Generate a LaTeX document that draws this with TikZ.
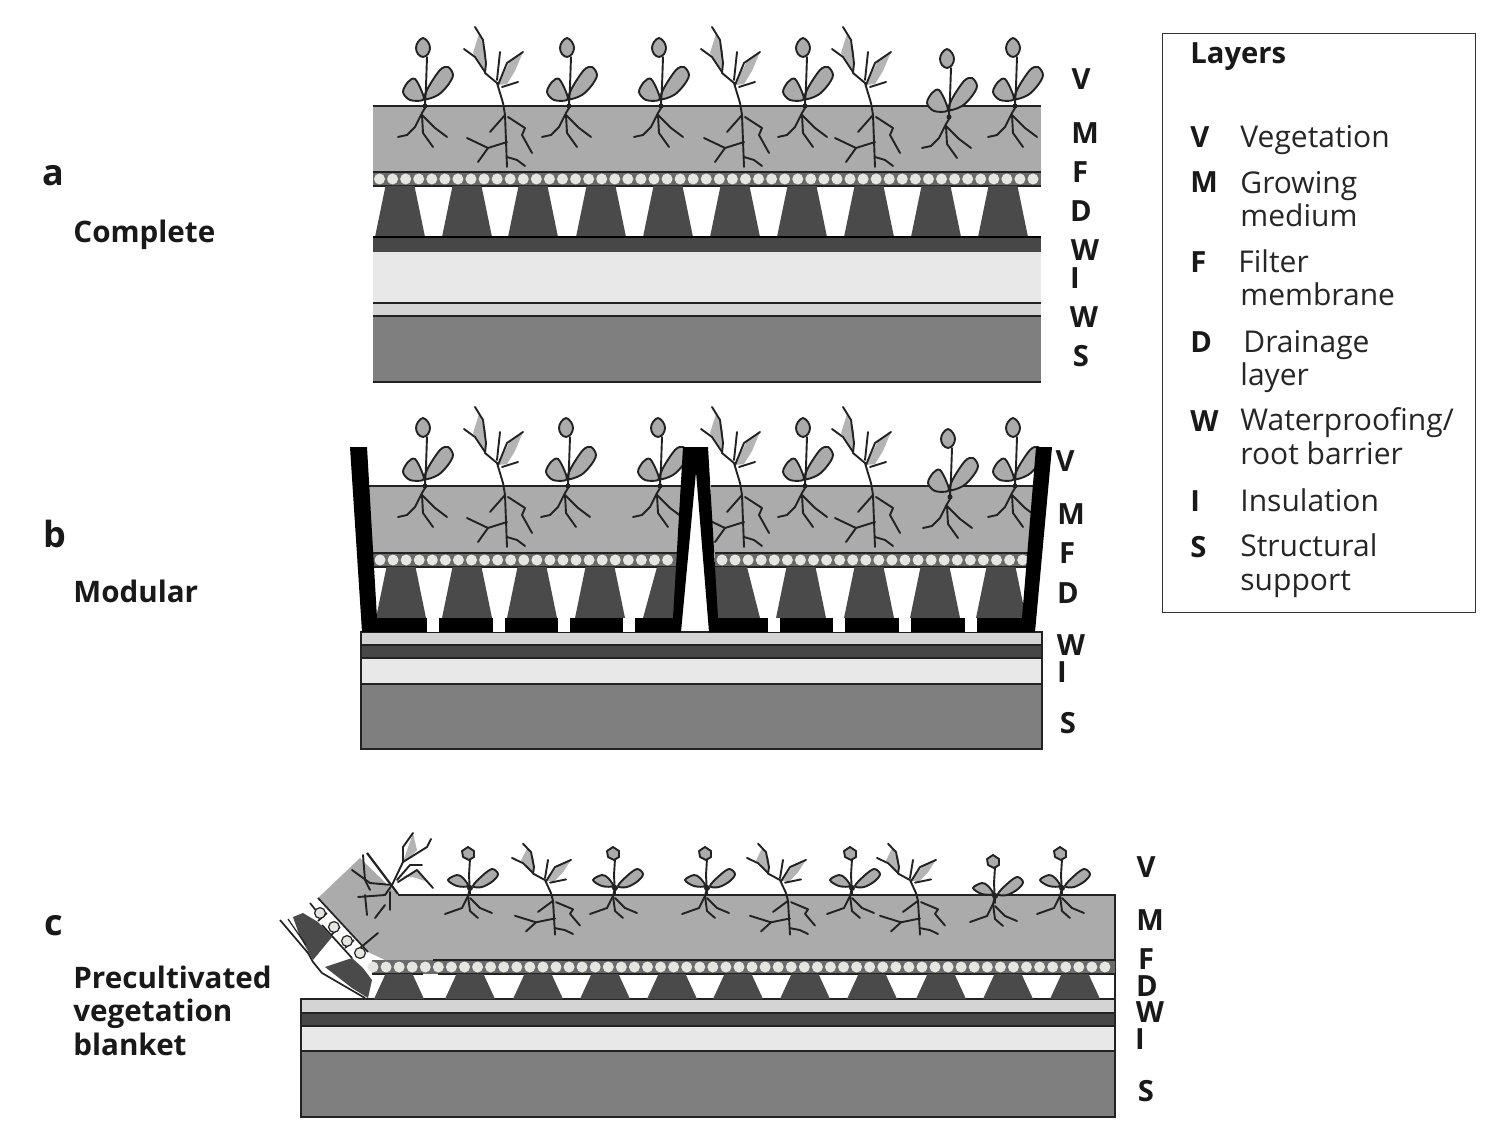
\documentclass[tikz,border=0pt]{standalone}
\usepackage{fontspec}
\setmainfont{Open Sans}
\definecolor{colM}{HTML}{ABABAB}
\definecolor{colD}{HTML}{4A4A4A}
\definecolor{colW}{HTML}{474747}
\definecolor{colWL}{HTML}{D4D4D4}
\definecolor{colI}{HTML}{E8E8E8}
\definecolor{colS}{HTML}{7F7F7F}
\definecolor{colLeaf}{HTML}{ABABAB}
\definecolor{colSoft}{HTML}{B4B4B4}
\definecolor{colBand}{HTML}{6A6A6A}
\definecolor{colBead}{HTML}{E6E6E0}
\definecolor{colLine}{HTML}{222222}
\newcommand{\plantBbody}{
    \fill[softleaf] (18,-54)--(5,-45)--(-7,-21)--(2,-22)--(10,-35)--cycle;
    \fill[softleaf] (-32,-53)--(-20,-36)--(-19,-55)--(-26,-72)--cycle;
    \draw[plantline] (-30,-79)--(-22,-66)--(-19,-43)--(-20,-33)--(-8,-23)--(-2,-3)--(0,9)--(2,61);
    \draw[plantline] (-41,-57)--(-30,-49)--(-20,-34);
    \draw[plantline] (-5,-54)--(-8,-26);
    \draw[plantline] (18,-54)--(2,-43)--(-7,-21);
    \draw[plantline] (13,-24)--(-3,-19);
    \draw[plantline] (0,9)--(-15,26);
    \draw[plantline] (3,11)--(20,22)--(17,29)--(27,47);
    \draw[plantline] (2,36)--(-17,42)--(-38,32);
    \draw[plantline] (-17,42)--(-27,56);
    \draw[plantline] (2,51)--(12,54)--(20,60);
}
\tikzset{
  plantline/.style={draw=colLine,line width=0.95pt,line join=round,line cap=round},
  leaf/.style={plantline,fill=colLeaf},
  softleaf/.style={fill=colSoft},
  layerM/.style={fill=colM},
  layerDark/.style={fill=colW},
  layerLight/.style={fill=colWL},
  layerIns/.style={fill=colI},
  layerS/.style={fill=colS},
  edge/.style={draw=colLine,line width=0.85pt},
  drainblock/.style={fill=colD},
  bead/.style={fill=colBead},
  beadband/.style={fill=colBand},
  tray/.style={fill=black},
  code/.style={font=\bfseries\fontsize{14.6}{16}\selectfont,inner sep=0pt,text=black!90},
  panelletter/.style={font=\bfseries\fontsize{18}{20}\selectfont,inner sep=0pt,text=black!90},
  panelname/.style={font=\bfseries\fontsize{14.8}{16.75}\selectfont,inner sep=0pt,align=left,anchor=base west,text=black!90},
  legkey/.style={font=\bfseries\fontsize{14.6}{16.75}\selectfont,inner sep=0pt,anchor=base west,text=black!90},
  legtext/.style={font=\fontsize{15}{16.75}\selectfont,inner sep=0pt,align=left,anchor=base west,text=black!85},
  plantA/.pic={
    \draw[leaf] plot[smooth cycle,tension=0.55] coordinates {(0,-7)(3,-18)(15,-36)(23,-39)(28,-31)(23,-21)(13,-11)};
    \draw[leaf] plot[smooth cycle,tension=0.55] coordinates {(-2,-6)(-15,-6)(-22,-14)(-17,-24)(-10,-27)(-3,-14)};
    \draw[plantline] (0,0)--(1,-20)--(2,-49);
    \draw[leaf] plot[smooth cycle,tension=0.6] coordinates {(-2,-68)(3,-64)(5,-58)(3,-52)(-2,-49)(-7,-52)(-9,-58)(-7,-64)};
    \draw[plantline] (0,-6)--(0,2)--(-3,7)--(-10,21)--(-18,29)--(-27,31);
    \draw[plantline] (-3,9)--(-2,27)--(8,41);
    \draw[plantline] (-3,9)--(10,22)--(22,31);
    \fill[colLine] (0,0) circle (2.5);
  },
  plantB/.pic={\plantBbody},
  plantBlow/.pic={\begin{scope}[yscale=0.65]\plantBbody\end{scope}},
  plantC/.pic={
    \draw[leaf] plot[smooth cycle,tension=0.55] coordinates {(3,-9)(12,-19)(22,-26)(28,-21)(23,-14)(12,-8)};
    \draw[leaf] plot[smooth cycle,tension=0.55] coordinates {(-2,-9)(-13,-9)(-22,-15)(-13,-20)(-7,-17)};
    \draw[plantline] (0,0)--(-1,-20)--(0,-36);
    \draw[leaf] (-2,-48)--(4,-44)--(4,-38)--(-1,-35)--(-7,-38)--(-8,-44)--cycle;
    \draw[plantline] (-2,1)--(-8,13)--(-25,19);
    \draw[plantline] (-2,1)--(0,16)--(8,23);
    \draw[plantline] (0,3)--(10,13)--(22,18);
    \draw[plantline] (0,-7)--(-2,1);
    \fill[colLine] (0,-7) circle (3);
  },
}
\newcommand{\drain}[5]{\fill[drainblock] ({#1-#2},#4)--({#1+#2},#4)--({#1+#3},#5)--({#1-#3},#5)--cycle;}
\newcommand{\beads}[3]{\foreach \k in {0,...,#2}{\fill[bead] ({#1+13.07*\k},#3) circle (5.5);}}
\begin{document}
\begin{tikzpicture}[x=0.5pt,y=-0.5pt]
\useasboundingbox (0,0) rectangle (1508,1128);
\fill[white] (0,0) rectangle (1508,1128);

% ---------- panel a
\fill[layerM] (373,106) rectangle (1041,172);
\draw[edge] (373,106)--(1041,106);
\foreach \x in {425,569,661,805,1015}{\pic at (\x,106) {plantA};}
\pic at (949,117) {plantA};
\foreach \x in {505,742,873}{\pic at (\x,106) {plantB};}
\fill[beadband] (373,172) rectangle (1041,186);
\beads{379.5}{50}{179}
\draw[edge] (373,172)--(1041,172) (373,186)--(1041,186);
\foreach \c in {400,467,533,601,668,735,802,869,936,1003}{\drain{\c}{14.5}{25}{186}{237}}
\fill[layerDark] (373,237) rectangle (1041,252);
\draw[edge,black] (373,237)--(1041,237);
\fill[layerIns] (373,252) rectangle (1041,303);
\fill[layerLight] (373,303) rectangle (1041,316);
\fill[layerS] (373,316) rectangle (1041,382);
\draw[edge] (373,303)--(1041,303) (373,316)--(1041,316) (373,382)--(1041,382);

% ---------- panel b
\fill[layerLight] (361,632) rectangle (1042,645);
\fill[layerDark] (361,645) rectangle (1042,658);
\fill[layerIns] (361,658) rectangle (1042,684);
\fill[layerS] (361,684) rectangle (1042,749);
\draw[edge] (361,632) rectangle (1042,749) (361,645)--(1042,645) (361,658)--(1042,658) (361,684)--(1042,684);
\fill[layerM] (362,486) rectangle (684,553);
\fill[layerM] (711,486) rectangle (1040,553);
\draw[edge] (362,486)--(684,486) (711,486)--(1040,486);
\foreach \x in {425,568,660,805,1015}{\pic at (\x,486) {plantA};}
\pic at (950,497) {plantA};
\foreach \x in {505,742,873}{\pic at (\x,486) {plantB};}
\fill[beadband] (368,553) rectangle (677,567);
\fill[beadband] (715,553) rectangle (1030,567);
\beads{380}{22}{560}
\beads{722}{23}{560}
\draw[edge] (368,553)--(677,553) (368,567)--(677,567) (715,553)--(1030,553) (715,567)--(1030,567);
\foreach \c in {401,467,532,600,801,869,935,1001}{\drain{\c}{14.5}{25}{567}{618}}
\fill[drainblock] (657,567)--(676,567)--(676,618)--(643,618)--cycle;
\fill[drainblock] (715,567)--(747,567)--(760,618)--(715,618)--cycle;
\fill[tray] (350,447)--(367,447)--(377,618)--(673,618)--(683,447)--(708,447)--(718,618)--(1022,618)--(1036,447)--(1052,447)--(1035,632)--(709,632)--(696,472)--(681,632)--(362,632)--cycle;
\foreach \x in {427,493,558,623,768,833,899,965}{\fill[white] (\x,618) rectangle ({\x+11.5},632);}

% ---------- panel c
\fill[layerLight] (301,999) rectangle (1115,1013);
\fill[layerDark] (301,1013) rectangle (1115,1026);
\fill[layerIns] (301,1026) rectangle (1115,1051);
\fill[layerS] (301,1051) rectangle (1115,1117);
\draw[edge] (301,999) rectangle (1115,1117) (301,1013)--(1115,1013) (301,1026)--(1115,1026) (301,1051)--(1115,1051);
\fill[layerM] (360,858)--(398,895)--(1115,895)--(1115,960)--(385,960)--(368,952)--(318,898)--cycle;
\draw[edge] (398,895)--(1115,895)--(1115,999);
\draw[edge,line width=1.1pt] (367,853)--(398,894);
\foreach \x in {470,615,707,852,1062}{\pic at (\x,895) {plantC};}
\pic at (995,903) {plantC};
\foreach \x in {553,788,918}{\pic at (\x,895) {plantBlow};}
% folded-back plant
\fill[softleaf] (403,862)--(413,833)--(417,850)--(407,860)--cycle;
\fill[softleaf] (403,877)--(417,870)--(428,882)--(413,877)--cycle;
\draw[plantline] (392,885)--(403,862)--(403,847)--(413,833);
\draw[plantline] (403,862)--(427,847)--(431,839);
\draw[plantline] (397,880)--(410,865)--(422,865);
\draw[plantline] (398,882)--(417,870)--(433,888);
\draw[plantline] (363,855)--(365,880)--(370,890);
\draw[plantline] (352,870)--(370,883)--(392,885);
\draw[plantline] (392,885)--(385,895)--(358,897);
\draw[plantline] (365,895)--(367,915);
\draw[plantline] (390,892)--(390,910);
\draw[plantline] (385,905)--(375,918);
\draw[plantline] (360,948)--(378,933);
% horizontal filter and drainage of the blanket
\fill[beadband] (372,960) rectangle (1115,974);
\beads{373}{56}{967}
\draw[edge] (433,960)--(1115,960) (372,974)--(423,974) (438,974)--(1115,974);
\foreach \c in {399,470,538,605,672,738,805,872,941,1008,1075}{\drain{\c}{13.5}{25}{974}{999}}
% tilted filter
\draw[edge] (318,898)--(368,952);
\draw[edge] (310,903)--(318,913) (322,925)--(352,958);
\foreach \a/\b/\c/\d in {318/921/327/913,331/935/340/927,345/948/354/940}{\draw[edge] (\a,\b)--(\c,\d);}
\foreach \p in {(320,913),(334,927),(347,941),(360,953)}{\fill[bead] \p circle (5.4); \draw[edge,line width=0.6pt] \p circle (5.4);}
% tilted drainage
\fill[drainblock] (293,917)--(303,913)--(318,922)--(332,937)--(313,960)--(300,937)--cycle;
\fill[drainblock] (325,967)--(352,958)--(363,968)--(372,980)--(368,998)--(352,988)--cycle;
\draw[edge] (280,920)--(308,953)--(313,962)--(322,973)--(365,998);
\draw[edge,line width=0.6pt] (288,919)--(306,945);

% ---------- layer codes
\node[code] (aV) at (1081,79) {V};
\node[code] (aM) at (1085,133) {M};
\node[code] (aF) at (1080,172) {F};
\node[code] (aD) at (1081,211) {D};
\node[code] (aW) at (1085,250) {W};
\node[code] (aI) at (1075,278) {I};
\node[code] (aW2) at (1084,317) {W};
\node[code] (aS) at (1081,356) {S};
\node[code] (bV) at (1065,461) {V};
\node[code] (bM) at (1071,514) {M};
\node[code] (bF) at (1067,553) {F};
\node[code] (bD) at (1068,593) {D};
\node[code] (bW) at (1071,645) {W};
\node[code] (bI) at (1062,672) {I};
\node[code] (bS) at (1068,723) {S};
\node[code] (cV) at (1146,867) {V};
\node[code] (cM) at (1150,920) {M};
\node[code] (cF) at (1146,959) {F};
\node[code] (cD) at (1147,986) {D};
\node[code] (cW) at (1150,1012) {W};
\node[code] (cI) at (1140,1039) {I};
\node[code] (cS) at (1146,1091) {S};

% ---------- panel titles
\node[panelletter] (la) at (53,176) {a};
\node[panelname] (na) at (73,243) {Complete};
\node[panelletter] (lb) at (55,534) {b};
\node[panelname] (nb) at (73,602) {Modular};
\node[panelletter] (lc) at (54,926) {c};
\node[panelname] (nc) at (73,1055) {Precultivated\\vegetation\\blanket};

% ---------- legend
\node[draw=black!80,line width=0.6pt,fill=white,minimum width=156.5pt,minimum height=289.5pt,inner sep=0pt,anchor=north west] (legendbox) at (1162,33) {};
\node[legkey] (lt) at (1190,64) {Layers};
\node[legkey] (kV) at (1190,148) {V};
\node[legtext] (tV) at (1240,148) {Vegetation};
\node[legkey] (kM) at (1190,193) {M};
\node[legtext] (tM) at (1240,227) {Growing\\medium};
\node[legkey] (kF) at (1190,273) {F};
\node[legtext] (tF) at (1238,306) {Filter\\\hspace*{1pt}membrane};
\node[legkey] (kD) at (1190,352) {D};
\node[legtext] (tD) at (1243,386) {Drainage\\\hspace*{-1.5pt}layer};
\node[legkey] (kW) at (1190,431) {W};
\node[legtext] (tW) at (1240,464) {Waterproofing/\\root barrier};
\node[legkey] (kI) at (1190,511) {I};
\node[legtext] (tI) at (1240,511) {Insulation};
\node[legkey] (kS) at (1190,557) {S};
\node[legtext] (tS) at (1240,590) {Structural\\support};
\end{tikzpicture}
\end{document}
